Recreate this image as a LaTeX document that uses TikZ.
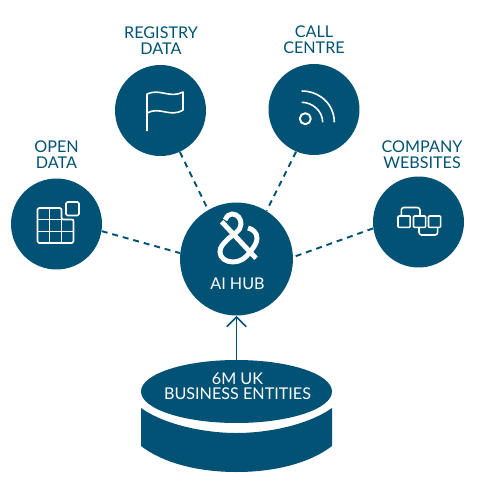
\documentclass[tikz,border=0pt]{standalone}
\usepackage{fontspec}
\setmainfont{Lato}
\usetikzlibrary{arrows.meta,shapes.geometric}
\definecolor{hubblue}{HTML}{015274}
\tikzset{
    hub/.style={circle, fill=hubblue, minimum size=#1, inner sep=0pt},
    caption/.style={text=hubblue, align=center, font=\fontsize{9.2pt}{9.1pt}\selectfont},
    whitecaption/.style={text=white, align=center, font=\fontsize{9.2pt}{8.7pt}\selectfont},
    link/.style={hubblue, line width=1.1pt, dash pattern=on 3.4pt off 2.8pt},
    icon/.style={white, line width=0.9pt, line join=round},
}
\begin{document}
\begin{tikzpicture}[x=0.02cm, y=-0.02cm]
    \useasboundingbox (0,0) rectangle (480,481);

    % circles
    \node[hub=1.82cm] (opendata) at (56.5,224) {};
    \node[hub=1.82cm] (registry) at (160.5,110.5) {};
    \node[hub=1.82cm] (callcentre) at (314,109.5) {};
    \node[hub=1.82cm] (websites) at (418.5,222) {};
    \node[hub=2.26cm] (aihub) at (236.5,259) {};

    % database
    \fill[hubblue] (141,408) .. controls (165,425) and (205,433) .. (236.5,433)
        .. controls (268,433) and (308,425) .. (332,408) -- (332,446)
        .. controls (310,463) and (275,472) .. (236.5,472)
        .. controls (198,472) and (163,463) .. (141,446) -- cycle;
    \node[ellipse, fill=hubblue, minimum width=3.82cm, minimum height=1.26cm, inner sep=0pt] (entities) at (236.5,391.5) {};

    % labels
    \node[caption] (opendatalabel) at (56.5,154.5) {OPEN\\DATA};
    \node[caption] (registrylabel) at (161,40.5) {REGISTRY\\DATA};
    \node[caption] (callcentrelabel) at (314,40) {CALL\\CENTRE};
    \node[caption] (websiteslabel) at (422,154.5) {COMPANY\\WEBSITES};
    \node[whitecaption] (aihublabel) at (237.5,284) {AI HUB};
    \node[whitecaption] (entitieslabel) at (237.5,386.5) {6M UK\\BUSINESS ENTITIES};

    % connectors
    \draw[link] (opendata.-9) -- (aihub.174);
    \draw[link] (registry.-65) -- (aihub.120);
    \draw[link] (callcentre.247) -- (aihub.58);
    \draw[link] (websites.188) -- (aihub.2);
    \draw[hubblue, line width=0.95pt, -{Straight Barb[length=5.5pt, width=11pt]}] (entities) -- (aihub);

    % grid icon
    \draw[icon, rounded corners=0.8pt] (37.5,208) -- (61.5,208) -- (61.5,219.5) -- (73.5,219.5) -- (73.5,243) -- (37.5,243) -- cycle;
    \foreach \x in {49.5,61.5} \draw[icon] (\x,208) -- (\x,243);
    \draw[icon] (37.5,219.5) -- (73.5,219.5);
    \draw[icon] (37.5,231.5) -- (73.5,231.5);
    \draw[icon, rounded corners=0.8pt] (66,202) rectangle (79,215.5);

    % flag icon
    \draw[icon] (147,131) -- (147,94) .. controls (160,88) and (170,99) .. (183,92) -- (183,110)
        .. controls (170,118) and (160,106) .. (147,113);

    % signal icon
    \draw[icon, line width=1.1pt] (305.3,118.7) circle (5.5);
    \draw[icon] (301.7,102.3) .. controls (312.7,102.3) and (322.7,111.3) .. (322.7,122.3);
    \draw[icon] (301.7,91) .. controls (319.7,91) and (334.3,104.3) .. (334.3,122.3);

    % websites icon
    \foreach \x in {398,413.5,428.5}
        \draw[icon, rounded corners=0.5pt] (\x,216) rectangle ++(12.2,11.3);
    \draw[icon, rounded corners=1.5pt] (401.3,216) -- (401.3,207.5) -- (420,207.5) -- (420,216);
    \draw[icon, rounded corners=1.5pt] (419,227.3) -- (419,235) -- (437.7,235) -- (437.7,227.3);

    % ampersand
    \draw[white, line width=2.8pt] (221.7,221.7) -- (256,258.3);
    \draw[white, line width=2.8pt] (225,220) .. controls (227,216) and (229,214) .. (232,214)
        .. controls (238,214) and (241,219) .. (241,224)
        .. controls (241,231) and (233,234) .. (227,240)
        .. controls (223,244) and (220,247) .. (220,252)
        .. controls (220,258) and (226,262) .. (233,262)
        .. controls (240,262) and (246,258) .. (250,252)
        .. controls (254,247) and (257,243) .. (257,238)
        .. controls (257,233) and (253,229) .. (248,228);
\end{tikzpicture}
\end{document}
